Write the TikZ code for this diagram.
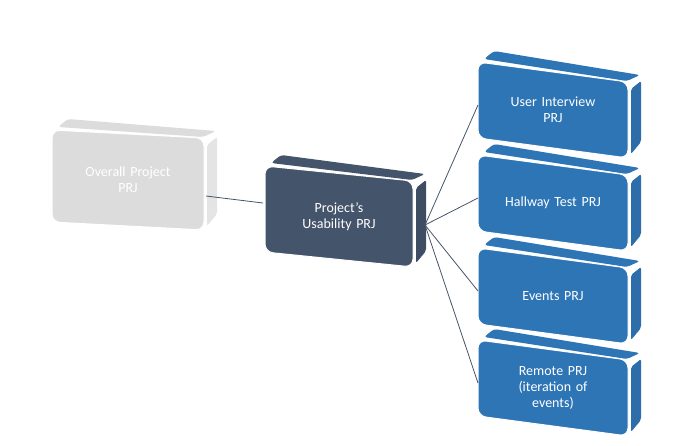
\documentclass[tikz,border=0pt]{standalone}
\usepackage{fontspec}
\setmainfont{Carlito}
\definecolor{blu}{HTML}{2E75B6}
\definecolor{blus}{HTML}{2C6DAA}
\definecolor{drk}{HTML}{44546A}
\definecolor{drks}{HTML}{3E4D62}
\definecolor{gry}{HTML}{DCDCDC}
\definecolor{grys}{HTML}{E4E4E4}
\newcommand\pbox[9]{%
 % name x y w h slope fill sidefill text
 \fill[#7,rounded corners=3pt] ({#2+6},{#3-3}) -- ({#2+16},{#3-11}) -- ({#2+#4+12},{#3+#6-7}) -- ({#2+#4-1},{#3+#6-1}) -- cycle;
 \fill[#8,rounded corners=2pt] ({#2+#4+3},{#3+#6+7}) -- ({#2+#4+13},{#3+#6-1}) -- ({#2+#4+13},{#3+#6+#5-16}) -- ({#2+#4+3},{#3+#6+#5-4}) -- cycle;
 \fill[#7,rounded corners=8pt,draw=white,line width=1pt] (#2,#3) -- ({#2+#4},{#3+#6}) -- ({#2+#4},{#3+#6+#5}) -- (#2,{#3+#5}) -- cycle;
 \node[txt,text width={#4-12}] (#1) at ({#2+#4/2},{#3+#5/2+#6/2}) {#9};
 \coordinate (#1-l) at (#2,{#3+#5/2+#6/4});
}
\begin{document}
\begin{tikzpicture}[x=1pt,y=-1pt,txt/.style={align=center,text=white,font=\fontsize{14}{16}\selectfont}]
\useasboundingbox (0,0) rectangle (678,445);
\pbox{ov}{52}{130}{152}{92}{8}{gry}{grys}{Overall Project\\PRJ}
\pbox{pu}{265}{166}{148}{86}{15}{drk}{drks}{Project's\\Usability PRJ}
\pbox{ui}{478}{62}{150}{76}{20}{blu}{blus}{User Interview\\PRJ}
\pbox{ht}{478}{155}{150}{76}{20}{blu}{blus}{Hallway Test PRJ}
\pbox{ev}{478}{248}{150}{76}{20}{blu}{blus}{Events PRJ}
\pbox{re}{478}{340}{150}{76}{20}{blu}{blus}{Remote PRJ\\(iteration of\\events)}
\coordinate (hub) at (425,225);
\coordinate (ovr) at (206,196);
\coordinate (pul) at (263,203);
\draw[drk,line width=0.8pt] (ovr) -- (pul);
\foreach \t in {ui,ht,ev,re} \draw[drk,line width=0.8pt] (hub) -- (\t-l);
\end{tikzpicture}
\end{document}
